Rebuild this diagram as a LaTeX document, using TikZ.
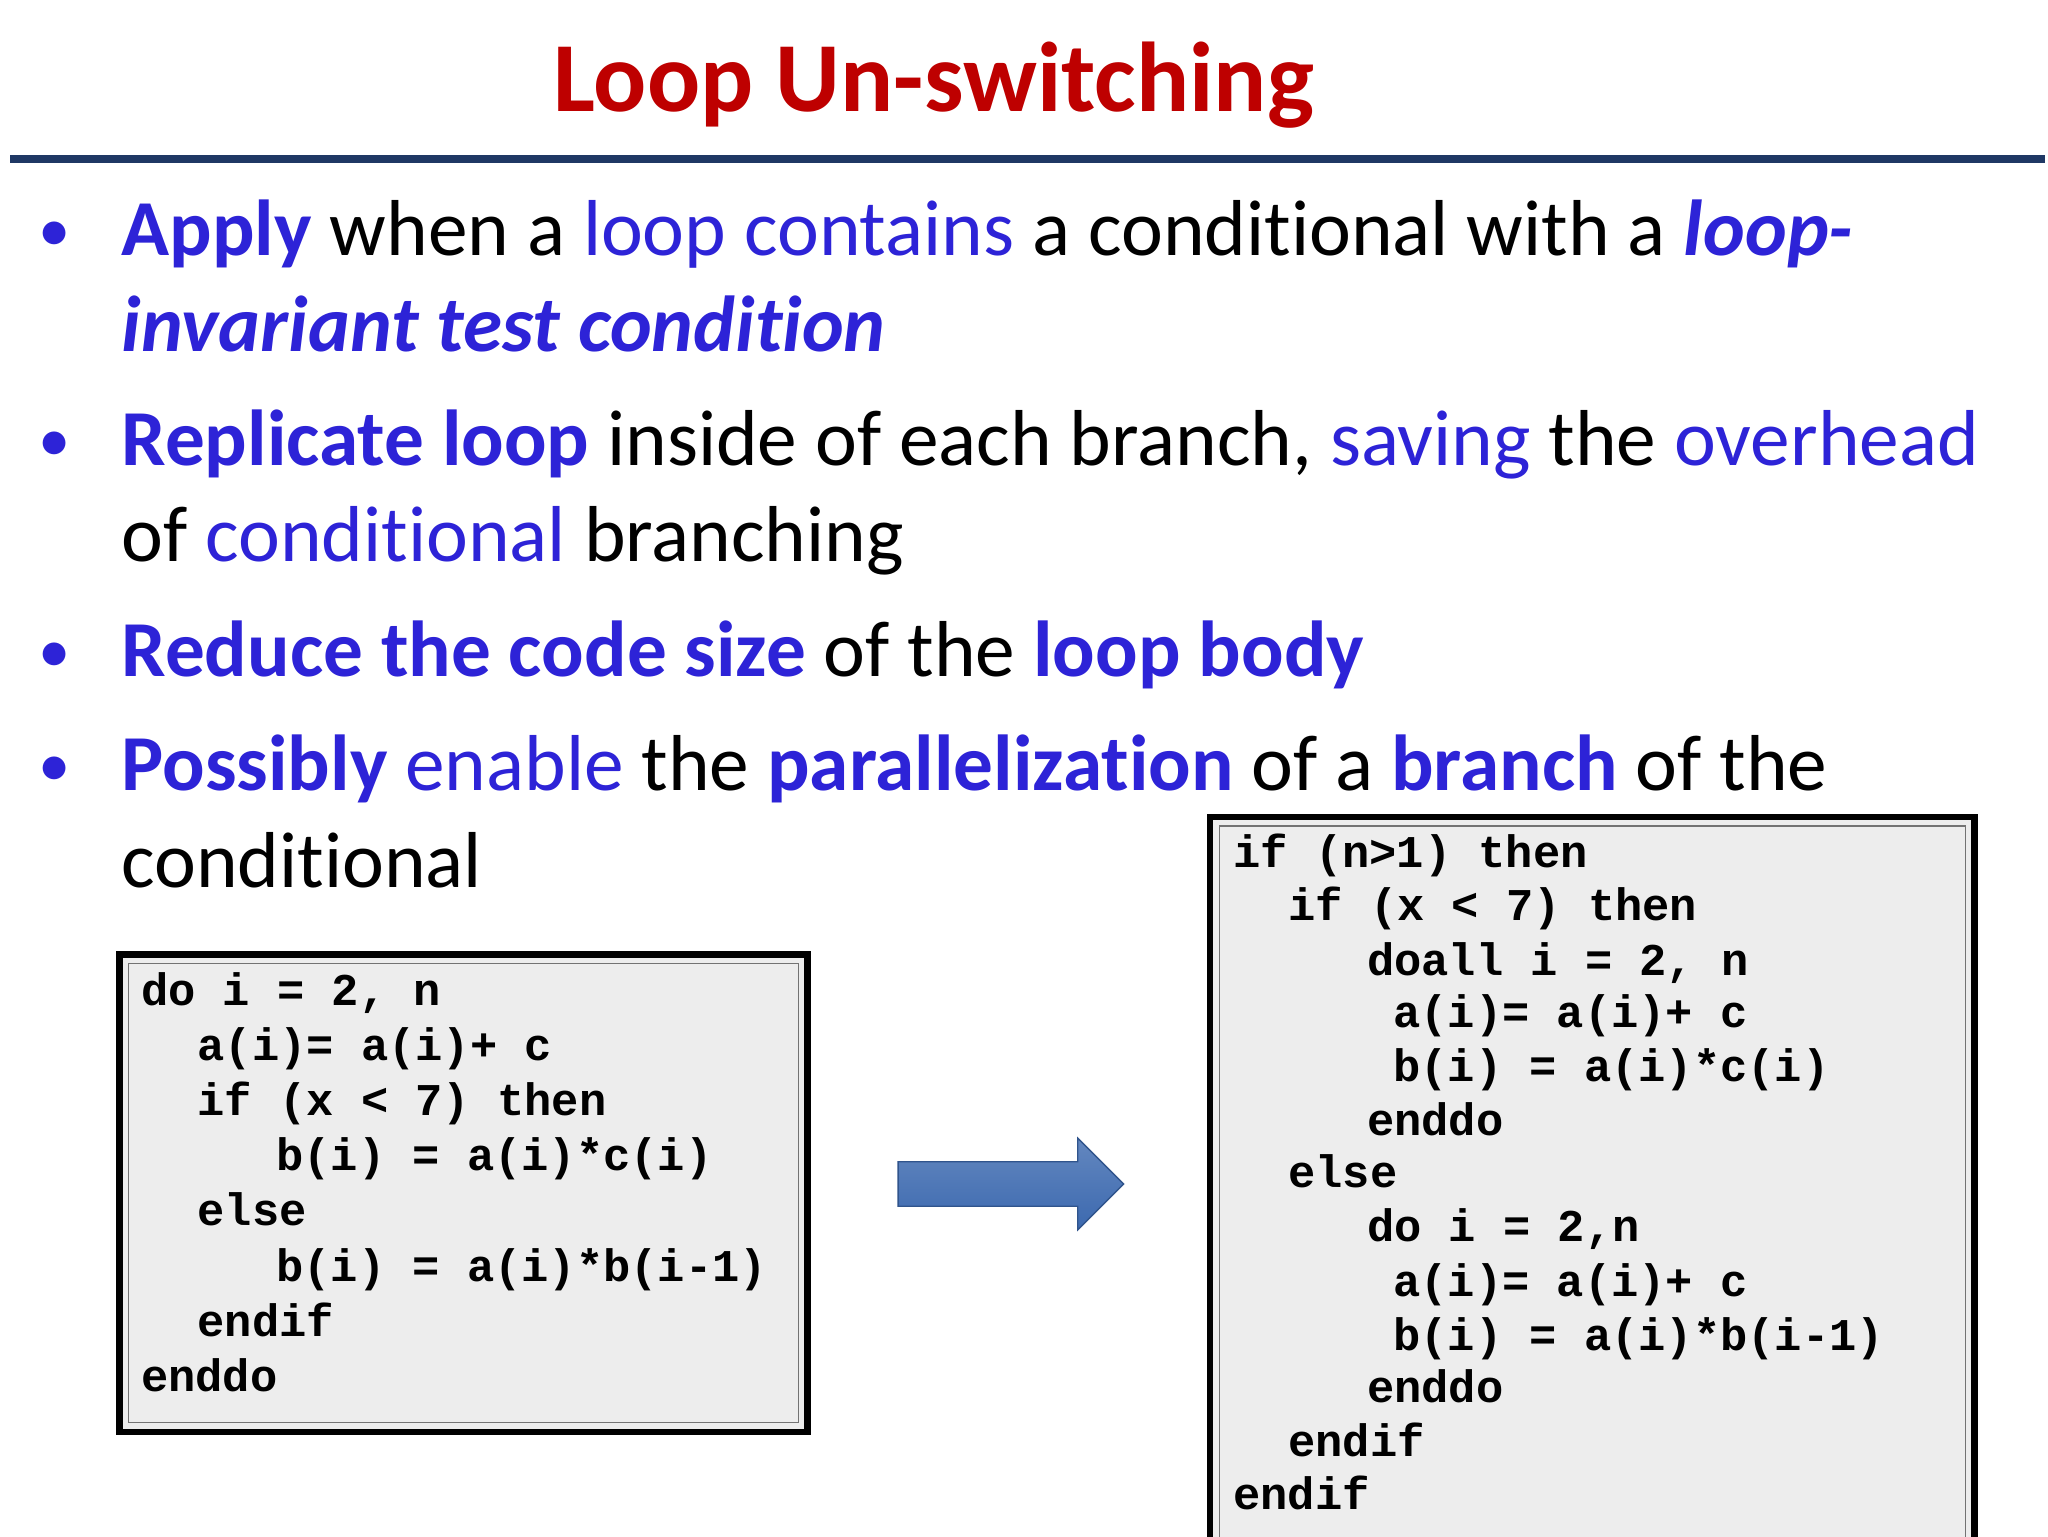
\documentclass[tikz,border=0pt]{standalone}
\usepackage{fontspec}
\setmainfont{Carlito}[RawFeature=-liga]
\setmonofont{Liberation Mono}
\definecolor{tblue}{RGB}{45,35,215}
\definecolor{tred}{RGB}{190,0,0}
\definecolor{rule}{RGB}{31,56,100}
\definecolor{arr}{RGB}{60,105,175}
\newcommand{\B}[1]{\textcolor{tblue}{\bfseries #1}}
\newcommand{\C}[1]{\textcolor{tblue}{#1}}
\begin{document}
\begin{tikzpicture}[x=0.01cm,y=-0.01cm,
  body/.style={anchor=base west,inner sep=0,font=\fontsize{17.2pt}{20pt}\selectfont},
  code/.style={anchor=base west,inner sep=0,font=\ttfamily\bfseries\fontsize{9.85pt}{12pt}\selectfont},
  blt/.style={anchor=base,inner sep=0,text=tblue,font=\fontsize{14pt}{20pt}\selectfont}]
\useasboundingbox (0,0) rectangle (1562,1171.5);
\fill[white] (0,0) rectangle (1562,1171.5);
\node[anchor=base,inner sep=0,text=tred,font=\bfseries\fontsize{21.5pt}{28pt}\selectfont] (title) at (712,85) {Loop Un-switching};
\draw[rule,line width=0.06cm] (8,121) -- (1560,121);
% bullets
\foreach \y/\n in {192/b1,352/b2,513/b3,600/b4}{\node[blt] (\n) at (42,\y) {•};}
\node[body] (l1) at (92,195) {\B{Apply} when a \C{loop contains} a conditional with a \textcolor{tblue}{\bfseries\itshape loop-}};
\node[body] (l2) at (92,268) {\textcolor{tblue}{\bfseries\itshape invariant test condition}};
\node[body] (l3) at (92,355) {\B{Replicate loop} inside of each branch, \C{saving} the \C{overhead}};
\node[body] (l4) at (92,428) {of \C{conditional} branching};
\node[body] (l5) at (92,516) {\B{Reduce the code size} of the \B{loop body}};
\node[body] (l6) at (92,603) {\B{Possibly} \C{enable} the \B{parallelization} of a \B{branch} of the};
\node[body] (l7) at (92,677) {conditional};
% left box
\draw[black,line width=0.05cm,fill=black!7] (91,728) rectangle (616,1092);
\draw[black!55,line width=0.012cm] (98,735) rectangle (609,1085);
\node[code] (c1) at (107,767) {do i = 2, n};
\node[code] (c2) at (150,809) {a(i)= a(i)+ c};
\node[code] (c3) at (150,851) {if (x < 7) then};
\node[code] (c4) at (210,893) {b(i) = a(i)*c(i)};
\node[code] (c5) at (150,935) {else};
\node[code] (c6) at (210,977) {b(i) = a(i)*b(i-1)};
\node[code] (c7) at (150,1019) {endif};
\node[code] (c8) at (107,1061) {enddo};
% arrow
\shade[top color=arr!80,bottom color=arr!100!black,draw=arr!80!black,line width=0.01cm]
  (685,886) -- (822,886) -- (822,868) -- (857,903) -- (822,938) -- (822,920) -- (685,920) -- cycle;
% right box
\draw[black,line width=0.05cm,fill=black!7] (923,623) rectangle (1506,1180);
\draw[black!55,line width=0.012cm] (930,630) rectangle (1499,1180);
\node[code] (r1) at (940,662) {if (n>1) then};
\node[code] (r2) at (982,702) {if (x < 7) then};
\node[code] (r3) at (1042,744) {doall i = 2, n};
\node[code] (r4) at (1062,784) {a(i)= a(i)+ c};
\node[code] (r5) at (1062,825) {b(i) = a(i)*c(i)};
\node[code] (r6) at (1042,866) {enddo};
\node[code] (r7) at (982,906) {else};
\node[code] (r8) at (1042,947) {do i = 2,n};
\node[code] (r9) at (1062,989) {a(i)= a(i)+ c};
\node[code] (r10) at (1062,1030) {b(i) = a(i)*b(i-1)};
\node[code] (r11) at (1042,1070) {enddo};
\node[code] (r12) at (982,1111) {endif};
\node[code] (r13) at (940,1151) {endif};
\end{tikzpicture}
\end{document}
